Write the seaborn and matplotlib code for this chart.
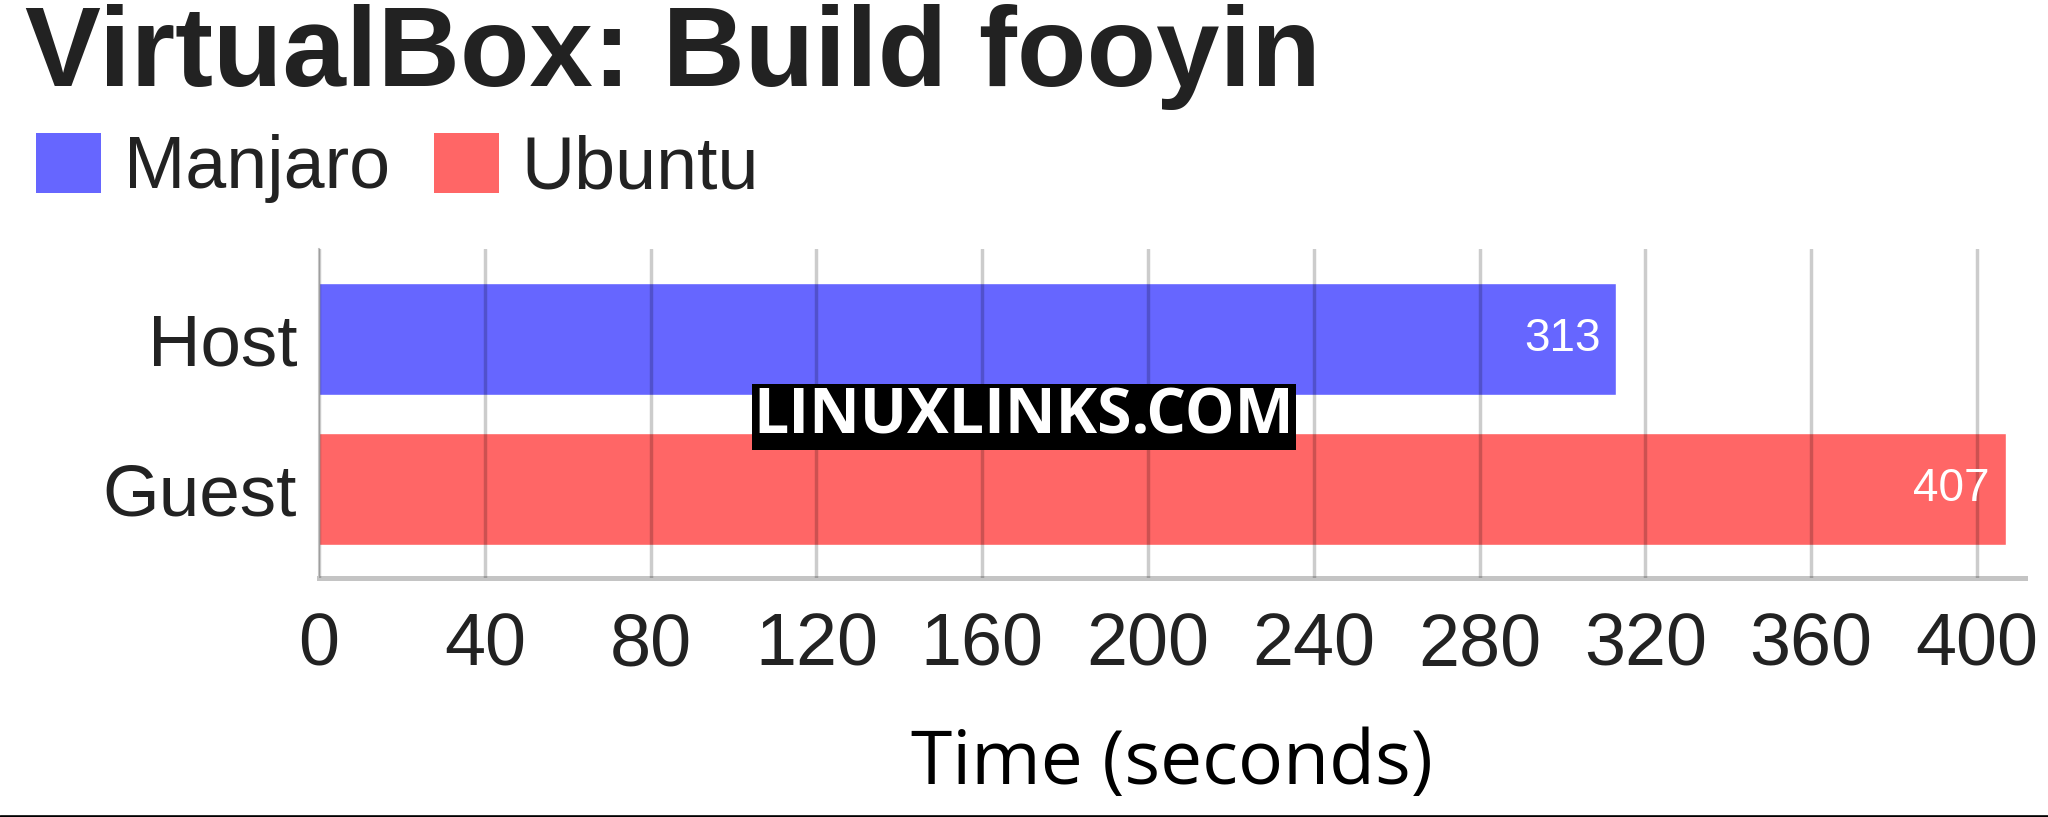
import matplotlib
matplotlib.use("Agg")
import matplotlib.pyplot as plt
import seaborn as sns
import pandas as pd
from matplotlib.patches import Patch
from matplotlib.lines import Line2D

# ---- data ----
title = "VirtualBox: Build fooyin"
categories = ["Host", "Guest"]
series_names = ["Manjaro", "Ubuntu"]
values = [313, 407]
colors = ["#6666ff", "#ff6666"]
x_ticks = [0, 40, 80, 120, 160, 200, 240, 280, 320, 360, 400]
x_label = "Time (seconds)"
watermark = "LINUXLINKS.COM"

sns.set_theme(style="white")
plt.rcParams["font.family"] = ["Liberation Sans", "DejaVu Sans"]

df = pd.DataFrame({"category": categories, "value": values, "series": series_names})

W, H = 2048, 817
fig = plt.figure(figsize=(W / 100, H / 100), dpi=100)
ax = fig.add_axes([319 / W, 1 - 578 / H, (2025 - 319) / W, (578 - 249) / H])

sns.barplot(data=df, x="value", y="category", hue="series", palette=colors,
            orient="h", width=0.75, dodge=False, legend=False, saturation=1, ax=ax)

ax.set_xlim(0, 411.6)
ax.set_ylim(1.593, -0.6)
ax.set_xticks(x_ticks)
ax.set_xticklabels([str(t) for t in x_ticks])
ax.tick_params(axis="x", length=0, pad=24, labelsize=53, labelcolor="#222222")
ax.tick_params(axis="y", length=0, pad=15.8, labelsize=52.5, labelcolor="#222222")
ax.set_ylabel("")

ax.grid(axis="x", color="black", alpha=0.2, linewidth=2.5)
ax.grid(axis="y", visible=False)
ax.set_axisbelow(False)

for s in ["top", "right"]:
    ax.spines[s].set_visible(False)
ax.spines["left"].set_color("#c6c6c6")
ax.spines["left"].set_linewidth(1.5)
ax.spines["bottom"].set_color("#c4c4c4")
ax.spines["bottom"].set_linewidth(3.6)

for c in ax.containers:
    labels = ax.bar_label(c, padding=-11.5, color="white", fontsize=33)
    for t in labels:
        t.set_ha("right")

# x label
ax.set_xlabel(x_label, fontsize=54, family=["Open Sans", "DejaVu Sans"], color="black")
ax.xaxis.label.set_va("baseline")
ax.xaxis.set_label_coords(0.5, ((H - 784) - (H - 578)) / (578 - 249))

# title
fig.text(25 / W, 1 - 86 / H, title, fontsize=82, fontweight="bold", color="#222222",
         ha="left", va="baseline")

# legend
handles = [Patch(facecolor=c, edgecolor="none", label=n) for c, n in zip(colors, series_names)]
leg = fig.legend(handles=handles, loc="center left", bbox_to_anchor=(36 / W, 1 - 168 / H),
                 ncol=2, frameon=False, fontsize=53, handlelength=0.88, handleheight=0.88,
                 handletextpad=0.31, columnspacing=0.6, borderpad=0, borderaxespad=0)
for t in leg.get_texts():
    t.set_color("#222222")

# watermark
fig.text(0.5, 1 - 417 / H, watermark, ha="center", va="center", color="white",
         fontsize=45, fontweight="bold", family=["Open Sans", "DejaVu Sans"],
         bbox=dict(facecolor="black", edgecolor="none", pad=0.8), zorder=10)
fig.add_artist(Line2D([755 / W, 1293 / W], [1 - 447 / H, 1 - 447 / H], color="white",
                      linewidth=1.6, transform=fig.transFigure, zorder=10))

# bottom rule
fig.add_artist(Line2D([0, 1], [1 - 815.5 / H, 1 - 815.5 / H], color="black",
                      linewidth=1.9, transform=fig.transFigure))

fig.savefig("out.png", dpi=100)
